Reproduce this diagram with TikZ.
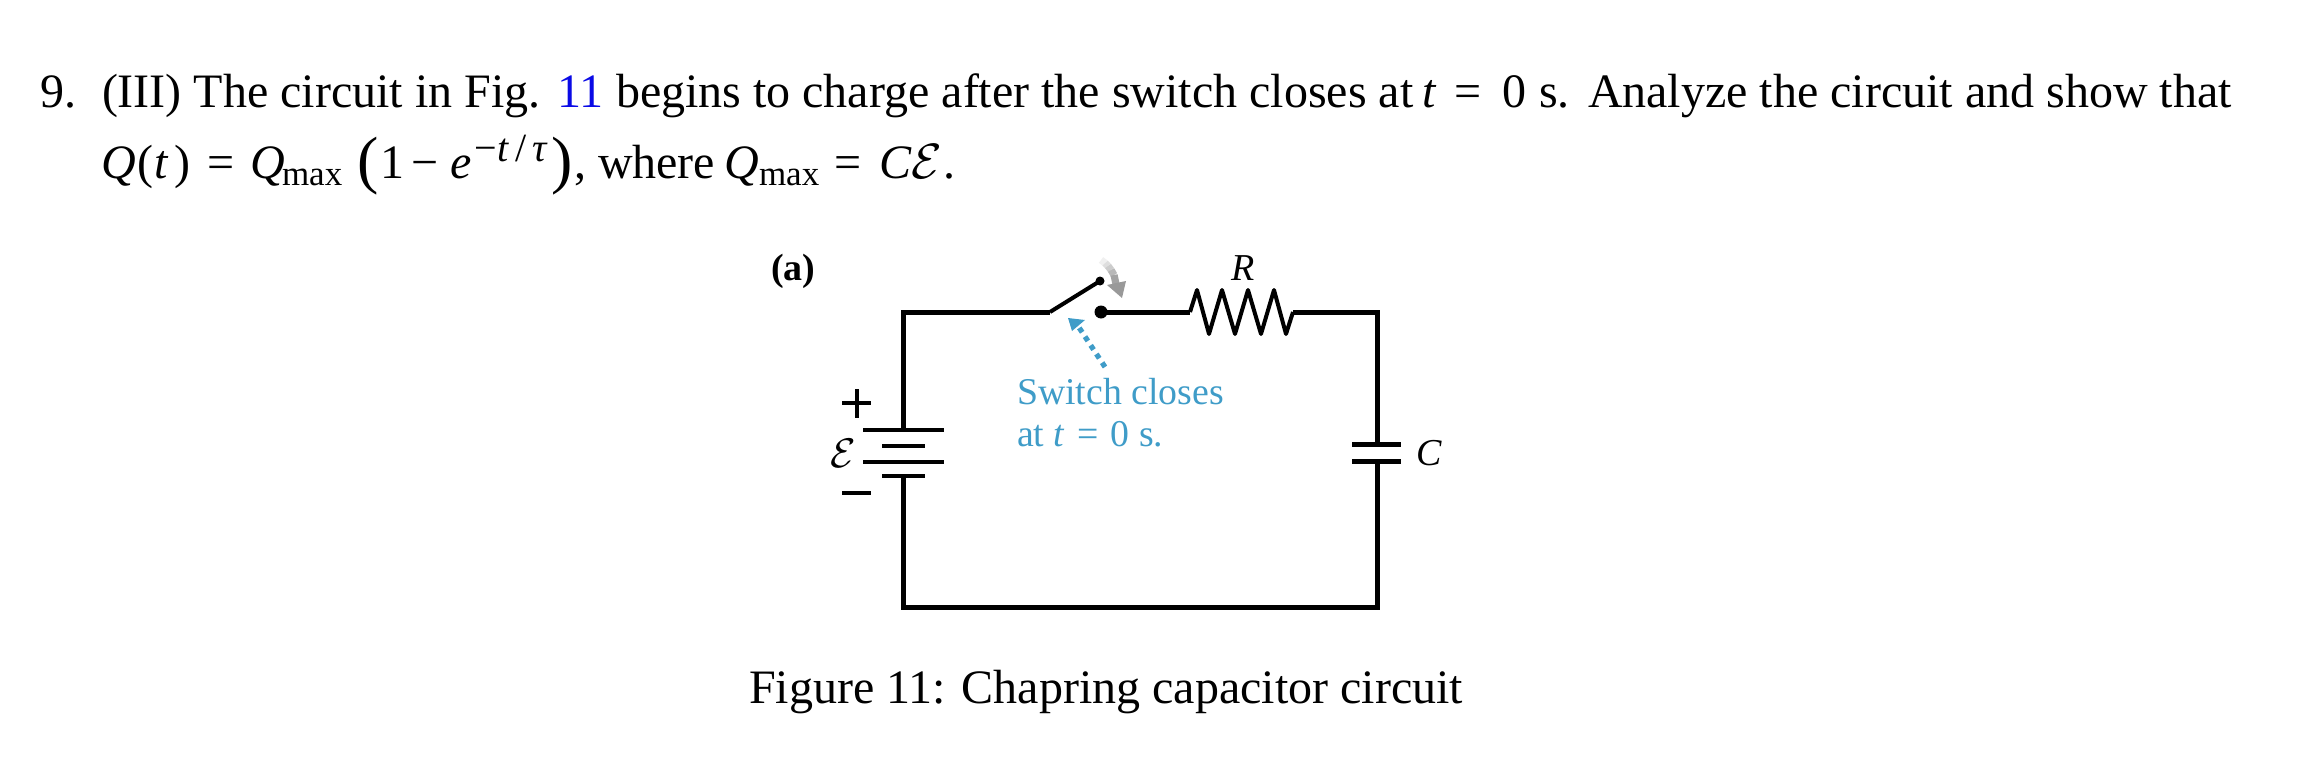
\documentclass[tikz,border=0pt]{standalone}
\usepackage{fontspec}
\setmainfont{Liberation Serif}
\usetikzlibrary{arrows.meta}
\definecolor{swblue}{HTML}{3F9CC8}
\definecolor{linkblue}{HTML}{0A0AE6}
\tikzset{
  wire/.style={line width=2.5bp,line join=miter,line cap=butt,black},
  thinwire/.style={line width=2bp,line join=round,black},
  txt/.style={inner sep=0pt,outer sep=0pt,anchor=base west,font=\fontsize{24bp}{28bp}\selectfont},
  subtxt/.style={inner sep=0pt,outer sep=0pt,anchor=base west,font=\fontsize{17.5bp}{20bp}\selectfont},
  exptxt/.style={inner sep=0pt,outer sep=0pt,anchor=base west,font=\fontsize{20bp}{22bp}\selectfont},
  bigtxt/.style={inner sep=0pt,outer sep=0pt,anchor=base west,font=\fontsize{32bp}{34bp}\selectfont},
  lab/.style={inner sep=0pt,outer sep=0pt,anchor=base west,font=\fontsize{19bp}{22bp}\selectfont},
  bluetxt/.style={inner sep=0pt,outer sep=0pt,anchor=base west,text=swblue,font=\fontsize{18.9bp}{22bp}\selectfont},
  contact/.style={circle,fill=black,inner sep=0pt},
}
\begin{document}
\begin{tikzpicture}[x=0.5bp,y=-0.5bp]
\useasboundingbox (0,0) rectangle (2302,772);
% line 1
\node[txt] (num) at (40,107) {9.};
\node[txt] (l1a) at (102,107) {(III) The circuit in Fig.};
\node[txt,text=linkblue] (l1b) at (557,107) {11};
\node[txt] (l1c) at (616,107) {begins to charge after the switch closes at};
\node[txt] (l1d) at (1422,107) {\textit{t}};
\node[txt] (l1e) at (1454,107) {=};
\node[txt] (l1f) at (1502,107) {0};
\node[txt] (l1g) at (1539,107) {s.};
\node[txt] (l1h) at (1588,107) {Analyze the circuit and show that};
% line 2
\node[txt] (q1) at (101,178) {\textit{Q}};
\node[txt] (q2) at (137,178) {(};
\node[txt] (q3) at (154,178) {\textit{t}};
\node[txt] (q4) at (174,178) {)};
\node[txt] (q5) at (207,178) {=};
\node[txt] (q6) at (250,178) {\textit{Q}};
\node[subtxt] (q7) at (282,185) {max};
\node[bigtxt] (q8) at (357,181) {(};
\node[txt] (q9) at (380,178) {1};
\node[txt] (q10) at (411,178) {−};
\node[txt] (q11) at (450,178) {\textit{e}};
\node[exptxt] (q12) at (474,161) {−};
\node[exptxt] (q13) at (497,161) {\textit{t}};
\node[exptxt] (q14) at (515,161) {/};
\node[exptxt] (q15) at (532,161) {\textit{τ}};
\node[bigtxt] (q16) at (551,181) {)};
\node[txt] (q17) at (574,178) {,};
\node[txt] (q18) at (598,178) {where};
\node[txt] (q19) at (724,178) {\textit{Q}};
\node[subtxt] (q20) at (759,185) {max};
\node[txt] (q21) at (834,178) {=};
\node[txt] (q22) at (879,178) {\textit{C}};
\node[txt] (q23) at (911,178) {$\mathcal{E}$};
\node[txt] (q24) at (943,178) {.};
% labels
\node[txt] (cap) at (749,703) {Figure 11: Chapring capacitor circuit};
\node[lab] (a) at (771,280) {\textbf{(a)}};
\node[lab] (rl) at (1231,280) {\textit{R}};
\node[lab] (cl) at (1416,465) {\textit{C}};
\node[lab,anchor=center,font=\fontsize{20bp}{22bp}\selectfont] (el) at (843,453) {$\mathcal{E}$};
\node[bluetxt] (sw1) at (1017,404) {Switch closes};
\node[bluetxt] (sw2) at (1017,446) {at \textit{t}\kern1.4bp\ =\kern1.4bp\ 0 s.};
% coordinates
\coordinate (tl) at (903,312);
\coordinate (bl) at (903,607);
\coordinate (br) at (1377,607);
\coordinate (tr) at (1377,312);
\coordinate (swl) at (1050,312);
\coordinate (rs) at (1190,312);
\coordinate (re) at (1293,312);
\coordinate (bt) at (903,430);
\coordinate (bb) at (903,476);
\coordinate (ct) at (1377,444);
\coordinate (cb) at (1377,461);
\node[contact,minimum size=6.5bp] (c1) at (1101,312) {};
\node[contact,minimum size=4.5bp] (c2) at (1100,281) {};
% wires
\draw[wire] (bt) -- (tl) -- (swl);
\draw[thinwire] (swl) -- (c2.center);
\draw[wire] (c1.center) -- (rs);
\draw[thinwire] (rs) -- (1197,290) -- (1209,334) -- (1222,290) -- (1235,334) -- (1248,290) -- (1261,334) -- (1274,290) -- (1286,334) -- (re);
\draw[wire] (re) -- (tr) -- (ct);
\draw[wire] (cb) -- (br) -- (bl) -- (bb);
% battery plates
\draw[thinwire] (863,430) -- (944,430);
\draw[thinwire] (882,446) -- (925,446);
\draw[thinwire] (863,462) -- (944,462);
\draw[thinwire] (882,476) -- (925,476);
% capacitor plates
\draw[wire] (1352,444) -- (1401,444);
\draw[wire] (1352,461) -- (1401,461);
% plus minus
\draw[line width=2.2bp] (842,403) -- (871,403);
\draw[line width=2.2bp] (857,389) -- (857,418);
\draw[line width=2.2bp] (842,493) -- (871,493);
% grey arrow
\draw[line width=3.6bp,black!6] (1101,260) -- (1105,263);
\draw[line width=3.6bp,black!13] (1105,263) -- (1108,266);
\draw[line width=3.6bp,black!20] (1108,266) -- (1111,270);
\draw[line width=3.6bp,black!28] (1111,270) -- (1114,275);
\draw[line width=3.6bp,black!36] (1114,275) -- (1116,284);
\fill[black!40] (1107,285) -- (1126,281) -- (1122,298) -- cycle;
% blue dotted arrow
\coordinate (bs) at (1105,367);
\coordinate (be) at (1078,326);
\draw[swblue,line width=2.6bp,dash pattern=on 2.6bp off 2.6bp] (bs) -- (be);
\fill[swblue] (1068,318) -- (1085,320) -- (1072,331) -- cycle;
\end{tikzpicture}
\end{document}
